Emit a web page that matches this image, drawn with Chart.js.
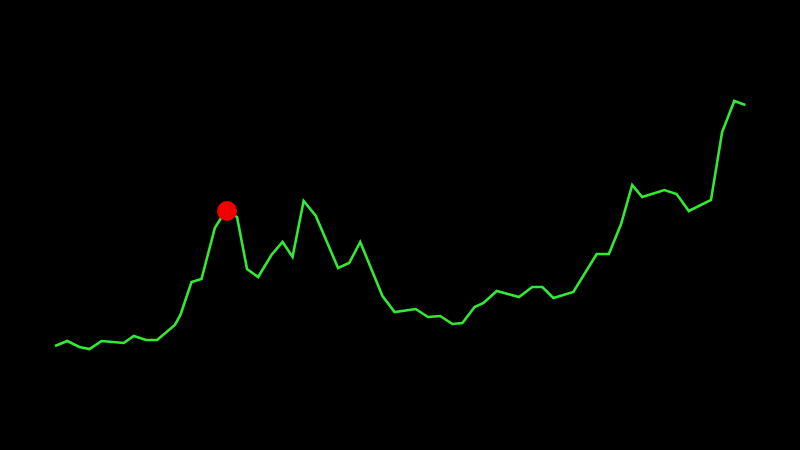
<!DOCTYPE html>
<html>
<head>
<meta charset="utf-8">
<script src="https://cdn.jsdelivr.net/npm/chart.js@4"></script>
<style>
html,body{margin:0;padding:0;background:#000;}
#wrap{width:800px;height:450px;}
</style>
</head>
<body>
<div id="wrap"><canvas id="c" width="800" height="450"></canvas></div>
<script>
const days = [0,1.1,2.2,3.1,4.2,5.2,6.2,7.1,8.2,9.2,10.8,11.3,12.3,13.2,14.4,14.9,15.5,16.4,17.3,18.3,19.5,20.5,21.4,22.4,23.5,25.5,26.5,27.5,29.5,30.6,32.5,33.6,34.7,35.8,36.7,37.8,38.6,39.8,41.8,43.0,43.9,44.9,46.7,48.8,49.9,51.0,52.0,52.9,54.9,56.0,57.1,59.1,60.1,61.2,62.2];
const prices = [10.4,10.9,10.3,10.1,10.9,10.8,10.7,11.4,11.0,11.0,12.5,13.5,16.8,17.1,22.2,23.1,23.9,23.3,18.1,17.3,19.5,20.8,19.3,24.9,23.4,18.2,18.7,20.8,15.4,13.8,14.1,13.3,13.4,12.6,12.7,14.3,14.7,15.9,15.3,16.3,16.3,15.2,15.8,19.6,19.6,22.6,26.5,25.3,26.0,25.6,23.9,25.0,31.8,34.9,34.5];
const markerDay = [15.5];
const markerPrice = [23.9];

const lineData = days.map((d,i)=>({x:d,y:prices[i]}));
const markData = markerDay.map((d,i)=>({x:d,y:markerPrice[i]}));

new Chart(document.getElementById('c'), {
  type: 'line',
  data: {
    datasets: [
      {data: markData, showLine:false, pointRadius:10, pointHoverRadius:10, pointBackgroundColor:'#f20000', pointBorderWidth:0, borderColor:'#f20000'},
      {data: lineData, borderColor:'#33ea33', borderWidth:2.6, pointRadius:0, pointHoverRadius:0, tension:0, fill:false}
    ]
  },
  options: {
    responsive:false,
    animation:false,
    devicePixelRatio:1,
    layout:{padding:0, autoPadding:false},
    plugins:{legend:{display:false}, tooltip:{enabled:false}},
    scales:{
      x:{type:'linear', display:false, min:-4.955, max:67.117},
      y:{type:'linear', display:false, min:0, max:45}
    }
  },
  plugins:[{id:'bg', beforeDraw(ch){const c=ch.ctx;c.save();c.fillStyle='#000';c.fillRect(0,0,ch.width,ch.height);c.restore();}}]
});
</script>
</body>
</html>
